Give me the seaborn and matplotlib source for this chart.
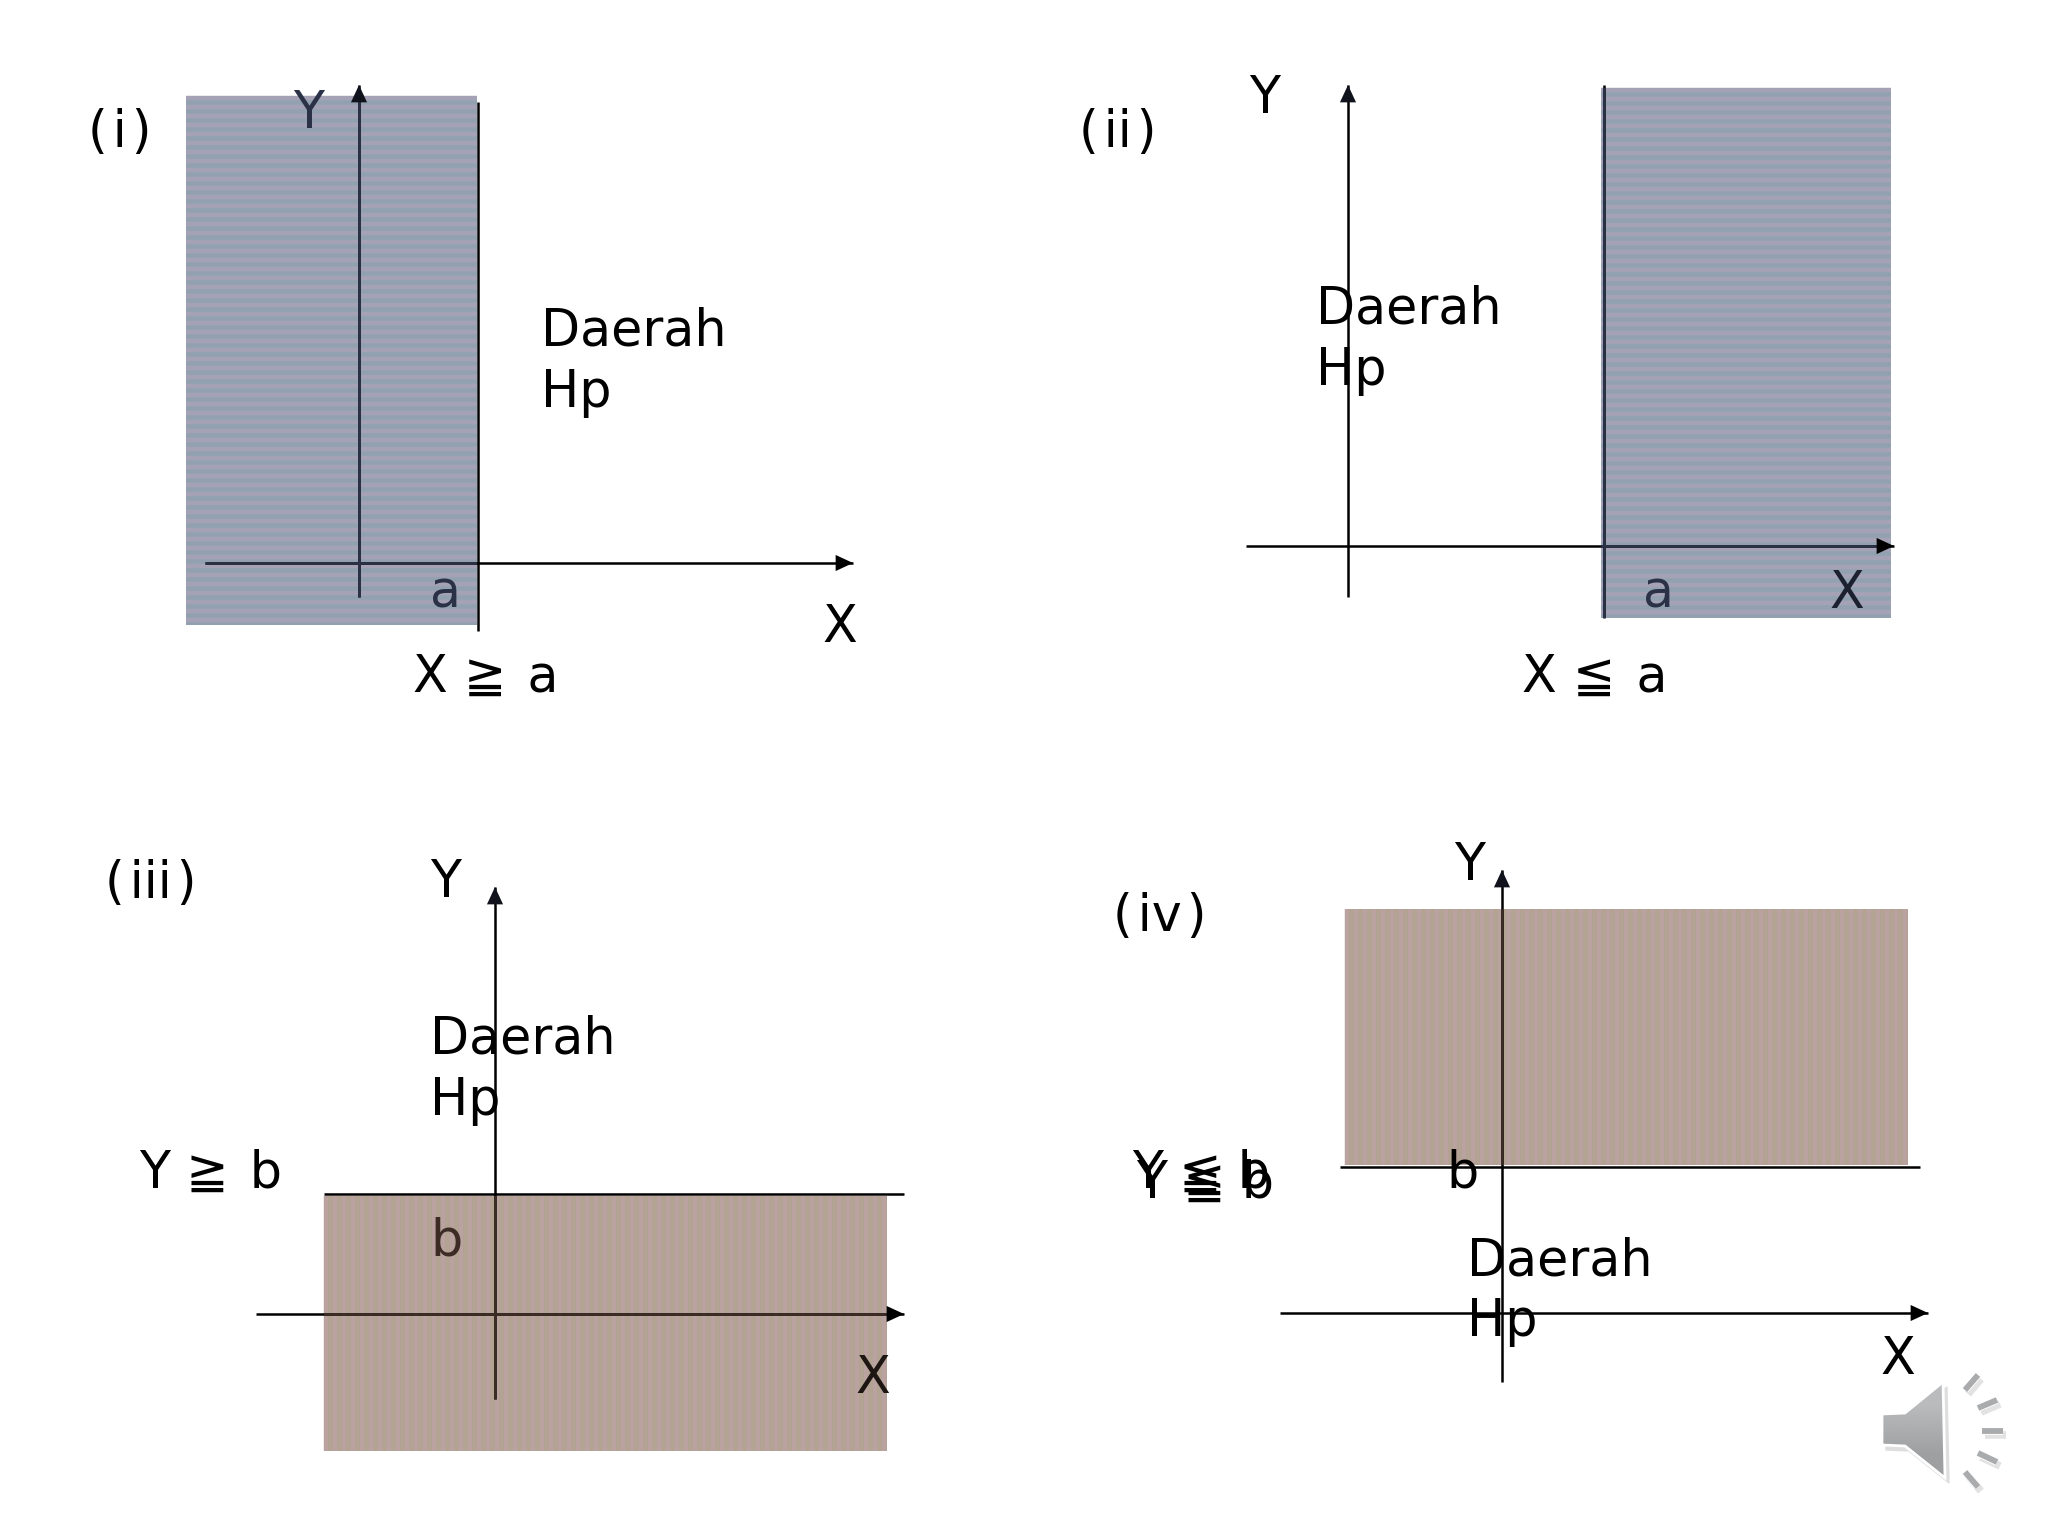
import numpy as np
import matplotlib
matplotlib.use("Agg")
import matplotlib.pyplot as plt
import seaborn as sns
from matplotlib.patches import Rectangle, Polygon

# shaded regions (i) (ii) (iii) (iv), picture pixels
region_left = [186, 1601, 324, 1345]
region_right = [477, 1891, 887, 1908]
region_top = [95.5, 88, 1196, 909]
region_bottom = [625, 618, 1451, 1165]
region_tint = ["#2b3248", "#2b3248", "#3d2c25", "#3d2c25"]

# axes of each panel
yaxis_x = [359, 1348, 495, 1502]
yaxis_top = [85, 85, 887, 870]
yaxis_bottom = [597, 597, 1399, 1382]
xaxis_y = [563, 546, 1314, 1313]
xaxis_left = [205, 1246, 256, 1280]
xaxis_right = [853, 1894, 904, 1928]

# boundary lines x=a and y=b
vline_x = [478, 1604]
vline_top = [102, 85]
vline_bottom = [631, 618]
hline_y = [1194, 1167]
hline_left = [324, 1340]
hline_right = [904, 1920]

# labels
label_text = ["(\u200ai\u200a)", "Y", "Daerah", "Hp", "a", "X", "X ≧\u200a a",
              "(\u200aii\u200a)", "Y", "Daerah", "Hp", "a", "X", "X ≦\u200a a",
              "(\u200aiii\u200a)", "Y", "Daerah", "Hp", "Y ≧\u200a b", "b", "X",
              "(\u200aiv\u200a)", "Y", "b", "Daerah", "Hp", "X", "Y ≦ b", "Y ≦ b"]
label_x = [88, 293, 541, 541, 430, 822, 413,
           1079, 1249, 1316, 1316, 1643, 1829, 1522,
           105, 430, 430, 430, 139, 430, 855,
           1113, 1454, 1446, 1467, 1467, 1880, 1132, 1136]
label_y = [147, 128, 345, 407, 608, 642, 692,
           147, 113, 323, 385, 608, 608, 692,
           898, 897, 1053, 1115, 1188, 1256, 1393,
           931, 880, 1187, 1275, 1336, 1374, 1188, 1198]
label_color = ["black", "#2b3248", "black", "black", "#2b3248", "black", "black",
               "black", "black", "black", "black", "#2b3248", "#1c2130", "black",
               "black", "black", "black", "black", "black", "#3d2c25", "#1c1512",
               "black", "black", "black", "black", "black", "black", "black", "black"]

# speaker icon
speaker_x = [1882, 1905, 1943, 1945, 1905, 1882]
speaker_y = [1414, 1413, 1382, 1478, 1446, 1445]
wave_x0 = [1965, 1978, 1982, 1978, 1965]
wave_y0 = [1390, 1408, 1431, 1453, 1472]
wave_x1 = [1978, 1997, 2003, 1997, 1978]
wave_y1 = [1375, 1400, 1431, 1462, 1487]

FONT_SIZE = 36.5

sns.set_theme(style="white")
plt.rcParams["font.family"] = ["DejaVu Sans"]

fig = plt.figure(figsize=(20.48, 15.36), dpi=100, facecolor="white")
ax = fig.add_axes([0, 0, 1, 1])


def add_line(xs, ys, color, clip):
    sns.lineplot(x=xs, y=ys, color=color, linewidth=1.8, estimator=None,
                 sort=False, errorbar=None, legend=False, ax=ax, zorder=5)
    line = ax.lines[-1]
    line.set_solid_capstyle("butt")
    if clip is not None:
        line.set_clip_path(clip)


def draw_lines(color, clip=None):
    for i in range(4):
        add_line([yaxis_x[i], yaxis_x[i]], [yaxis_top[i], yaxis_bottom[i]], color, clip)
        add_line([xaxis_left[i], xaxis_right[i]], [xaxis_y[i], xaxis_y[i]], color, clip)
    for i in range(2):
        add_line([vline_x[i], vline_x[i]], [vline_top[i], vline_bottom[i]], color, clip)
        add_line([hline_left[i], hline_right[i]], [hline_y[i], hline_y[i]], color, clip)


# regions with the stripes of the video capture
for i in range(4):
    w = region_right[i] - region_left[i]
    h = region_bottom[i] - region_top[i]
    horizontal = i < 2
    base, stripe = ("#92a1b0", "#a6a2b6") if horizontal else ("#b2a392", "#b9a29f")
    ax.bar(region_left[i], h, width=w, bottom=region_top[i], align="edge",
           color=base, linewidth=0, zorder=1)
    if horizontal:
        for y in np.arange(region_top[i] + 2, region_bottom[i], 9):
            ax.hlines(y, region_left[i], region_right[i], color=stripe, linewidth=3.2, zorder=2)
    else:
        for x in np.arange(region_left[i] + 2, region_right[i], 9):
            ax.vlines(x, region_top[i], region_bottom[i], color=stripe, linewidth=3.2, zorder=2)

draw_lines("black")

# the same lines in a softer tone where they lie on a region
for i in range(4):
    clip = Rectangle((region_left[i], region_top[i]),
                     region_right[i] - region_left[i],
                     region_bottom[i] - region_top[i],
                     transform=ax.transData)
    draw_lines(region_tint[i], clip)

for s, x, y, c in zip(label_text, label_x, label_y, label_color):
    ax.text(x, y, s, fontsize=FONT_SIZE, color=c, ha="left", va="baseline", zorder=6)

# arrow heads
for i in range(4):
    ax.annotate("", xy=(yaxis_x[i], yaxis_top[i]), xytext=(yaxis_x[i], yaxis_top[i] + 20),
                arrowprops=dict(arrowstyle="-|>,head_length=1.25,head_width=0.58", mutation_scale=10,
                                color="#10131c", shrinkA=0, shrinkB=0, lw=0), zorder=7)
    ax.annotate("", xy=(xaxis_right[i], xaxis_y[i]), xytext=(xaxis_right[i] - 20, xaxis_y[i]),
                arrowprops=dict(arrowstyle="-|>,head_length=1.25,head_width=0.58", mutation_scale=10,
                                color="black", shrinkA=0, shrinkB=0, lw=0), zorder=7)

# speaker
pts = np.column_stack([speaker_x, speaker_y])
ax.add_patch(Polygon(pts + [4, 5], closed=True, color="#dedede", zorder=3))
ax.add_patch(Polygon(pts, closed=True, facecolor="none", edgecolor="white", linewidth=2, zorder=5))
grad = ax.imshow(np.array([[0.0], [1.0]]), cmap=sns.blend_palette(["#b9bbbc", "#9d9fa1"], as_cmap=True),
                 vmin=0, vmax=1, extent=(1880, 1947, 1480, 1380), aspect="auto",
                 interpolation="bilinear", zorder=4)
grad.set_clip_path(Polygon(pts, closed=True, transform=ax.transData))
for x0, y0, x1, y1 in zip(wave_x0, wave_y0, wave_x1, wave_y1):
    ax.plot([x0 + 3, x1 + 3], [y0 + 4, y1 + 4], color="#e2e2e2", linewidth=5.5, solid_capstyle="butt", zorder=3)
    ax.plot([x0, x1], [y0, y1], color="white", linewidth=5.5, solid_capstyle="butt", zorder=3.5)
    ax.plot([x0, x1], [y0, y1], color="#a9abad", linewidth=4.2, solid_capstyle="butt", zorder=4)

ax.set_xlim(0, 2048)
ax.set_ylim(1536, 0)
ax.axis("off")

plt.savefig("out.png", dpi=100, facecolor="white")
plt.close()
